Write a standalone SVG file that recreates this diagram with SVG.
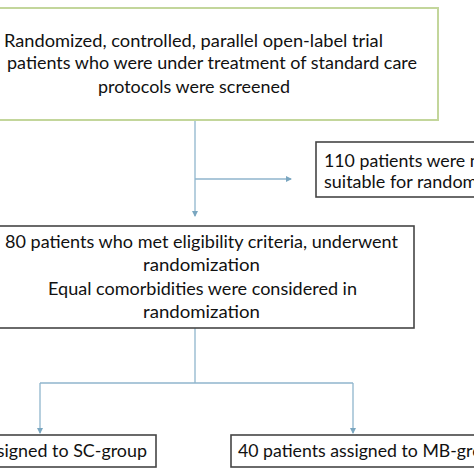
<svg xmlns="http://www.w3.org/2000/svg" width="474" height="474" viewBox="0 0 474 474">
<style>
text{font-family:Lato,"Liberation Sans",Arial,sans-serif;font-size:18px;fill:#111}
.box{fill:#fff;stroke:#454545;stroke-width:1.6}
.top{fill:#fff;stroke:#c3d69b;stroke-width:2}
.con{fill:none;stroke:#8fb5cc;stroke-width:1.3}
</style>
<defs>
<marker id="ah" viewBox="0 0 6 6" refX="5" refY="3" markerWidth="6" markerHeight="6" markerUnits="userSpaceOnUse" orient="auto">
<path d="M0,0 L6,3 L0,6 z" fill="#7aa6c0"/>
</marker>
</defs>
<rect width="474" height="474" fill="#fff"/>
<g id="connectors">
<path class="con" d="M195,121 V216" marker-end="url(#ah)"/>
<path class="con" d="M195,179 H291" marker-end="url(#ah)"/>
<path class="con" d="M195,328 V383"/>
<path class="con" d="M40,383 H353"/>
<path class="con" d="M40,383 V433" marker-end="url(#ah)"/>
<path class="con" d="M353,383 V433" marker-end="url(#ah)"/>
</g>
<g id="screened">
<rect class="top" x="-10" y="8" width="448" height="112"/>
<text x="4" y="47" textLength="379" lengthAdjust="spacingAndGlyphs">Randomized, controlled, parallel open-label trial</text>
<text x="7" y="69" textLength="410" lengthAdjust="spacingAndGlyphs">patients who were under treatment of standard care</text>
<text x="98" y="93" textLength="192" lengthAdjust="spacingAndGlyphs">protocols were screened</text>
</g>
<g id="excluded">
<rect class="box" x="316" y="142" width="170" height="55"/>
<text x="324" y="167" textLength="172" lengthAdjust="spacingAndGlyphs">110 patients were not</text>
<text x="324" y="188" textLength="206" lengthAdjust="spacingAndGlyphs">suitable for randomization</text>
</g>
<g id="randomized">
<rect class="box" x="-10" y="226" width="424" height="102"/>
<text x="5" y="248" textLength="393" lengthAdjust="spacingAndGlyphs">80 patients who met eligibility criteria, underwent</text>
<text x="143" y="271" textLength="117" lengthAdjust="spacingAndGlyphs">randomization</text>
<text x="48" y="295" textLength="309" lengthAdjust="spacingAndGlyphs">Equal comorbidities were considered in</text>
<text x="143" y="318" textLength="117" lengthAdjust="spacingAndGlyphs">randomization</text>
</g>
<g id="sc-group">
<rect class="box" x="-120" y="435" width="276" height="32"/>
<text x="-113" y="457" textLength="260" lengthAdjust="spacingAndGlyphs">40 patients assigned to SC-group</text>
</g>
<g id="mb-group">
<rect class="box" x="231" y="435" width="280" height="32"/>
<text x="238" y="457" textLength="264" lengthAdjust="spacingAndGlyphs">40 patients assigned to MB-group</text>
</g>
</svg>
